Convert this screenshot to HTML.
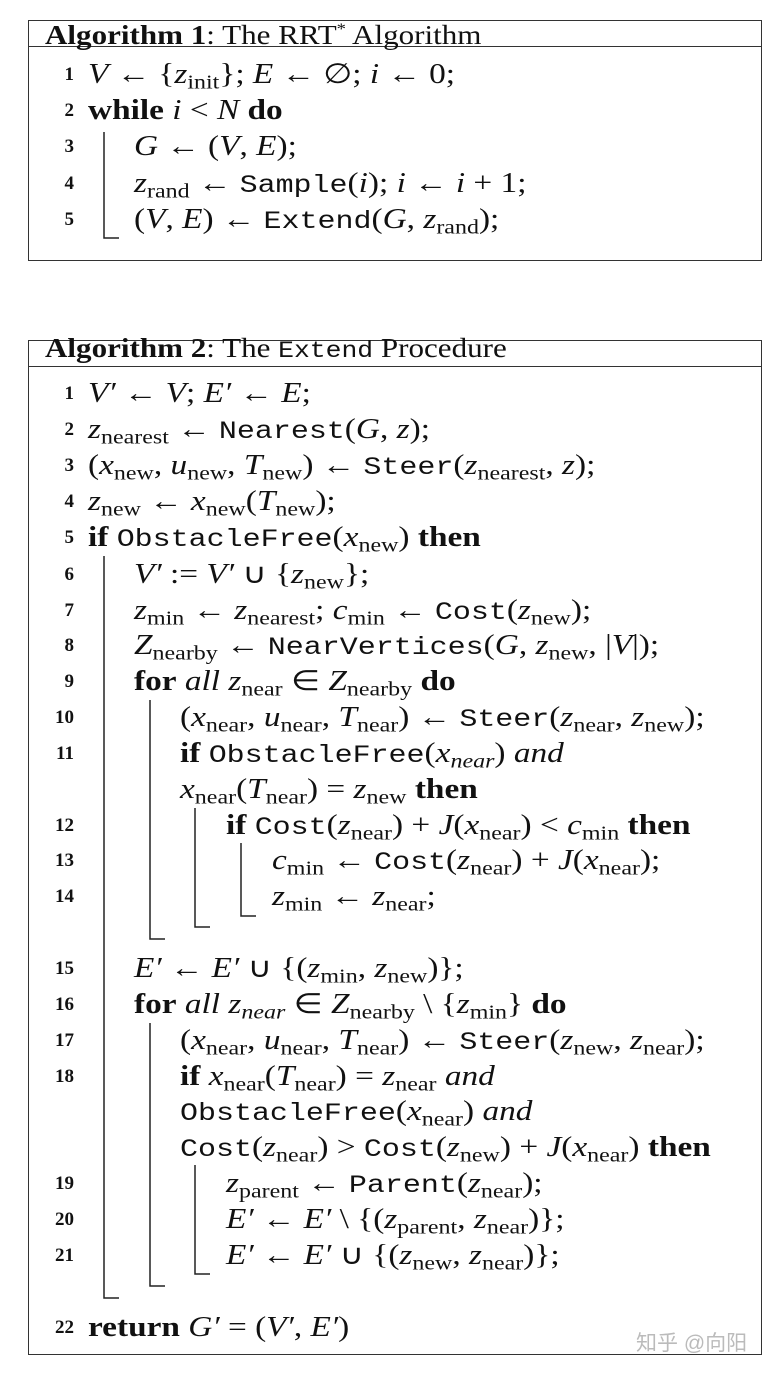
<!DOCTYPE html>
<html><head><meta charset="utf-8"><style>
body{margin:0;width:781px;height:1375px;background:#fff;position:relative;overflow:hidden;font-family:"Liberation Serif",serif;color:#111}
.l{position:absolute;white-space:nowrap;font-size:28px;line-height:32px;transform:scaleX(1.19);transform-origin:0 50%}
.n{position:absolute;width:40px;left:34px;text-align:right;font-weight:bold;font-size:19px;line-height:32px}
i{font-style:italic}
sub{font-size:0.72em;vertical-align:-0.28em;line-height:0;font-style:normal}
.m{font-family:"Liberation Mono",monospace;font-size:0.9em}
b{font-weight:bold}
.box{position:absolute;border:1.5px solid #333;left:28px;width:732px}
.hd{position:absolute;left:45px;font-size:27px;line-height:28px;white-space:nowrap;transform:scaleX(1.15);transform-origin:0 50%}
</style></head><body>
<div class="box" style="top:20px;height:239px"></div>
<div style="position:absolute;left:28px;top:46px;width:734px;border-top:1.5px solid #333"></div>
<div class="hd" style="top:15px"><b>Algorithm 1</b>: The RRT<sup style="font-size:0.6em">*</sup> Algorithm</div>

<div class="box" style="top:340px;height:1013px"></div>
<div style="position:absolute;left:28px;top:366px;width:734px;border-top:1.5px solid #333"></div>
<div class="hd" style="top:334px"><b>Algorithm 2</b>: The <span class="m" style="font-size:0.85em">Extend</span> Procedure</div>

<svg width="781" height="1375" style="position:absolute;left:0;top:0" fill="none" stroke="#222" stroke-width="1.5">
<path d="M104 132V238H119"/>
<path d="M104 556V1298H119"/>
<path d="M150 700V939H165"/>
<path d="M195 808V927H210"/>
<path d="M241 843V916H256"/>
<path d="M150 1023V1286H165"/>
<path d="M195 1165V1274H210"/>
</svg>

<div class="n" style="top:59px">1</div><div class="l" style="left:88px;top:59px"><i>V</i> ← {<i>z</i><sub>init</sub>}; <i>E</i> ← ∅; <i>i</i> ← 0;</div>
<div class="n" style="top:95px">2</div><div class="l" style="left:88px;top:95px"><b>while</b> <i>i</i> &lt; <i>N</i> <b>do</b></div>
<div class="n" style="top:131px">3</div><div class="l" style="left:134px;top:131px"><i>G</i> ← (<i>V</i>, <i>E</i>);</div>
<div class="n" style="top:168px">4</div><div class="l" style="left:134px;top:168px"><i>z</i><sub>rand</sub> ← <span class="m">Sample</span>(<i>i</i>); <i>i</i> ← <i>i</i> + 1;</div>
<div class="n" style="top:204px">5</div><div class="l" style="left:134px;top:204px">(<i>V</i>, <i>E</i>) ← <span class="m">Extend</span>(<i>G</i>, <i>z</i><sub>rand</sub>);</div>

<div class="n" style="top:378px">1</div><div class="l" style="left:88px;top:378px"><i>V′</i> ← <i>V</i>; <i>E′</i> ← <i>E</i>;</div>
<div class="n" style="top:414px">2</div><div class="l" style="left:88px;top:414px"><i>z</i><sub>nearest</sub> ← <span class="m">Nearest</span>(<i>G</i>, <i>z</i>);</div>
<div class="n" style="top:450px">3</div><div class="l" style="left:88px;top:450px">(<i>x</i><sub>new</sub>, <i>u</i><sub>new</sub>, <i>T</i><sub>new</sub>) ← <span class="m">Steer</span>(<i>z</i><sub>nearest</sub>, <i>z</i>);</div>
<div class="n" style="top:486px">4</div><div class="l" style="left:88px;top:486px"><i>z</i><sub>new</sub> ← <i>x</i><sub>new</sub>(<i>T</i><sub>new</sub>);</div>
<div class="n" style="top:522px">5</div><div class="l" style="left:88px;top:522px"><b>if</b> <span class="m">ObstacleFree</span>(<i>x</i><sub>new</sub>) <b>then</b></div>
<div class="n" style="top:559px">6</div><div class="l" style="left:134px;top:559px"><i>V′</i> := <i>V′</i> ∪ {<i>z</i><sub>new</sub>};</div>
<div class="n" style="top:595px">7</div><div class="l" style="left:134px;top:595px"><i>z</i><sub>min</sub> ← <i>z</i><sub>nearest</sub>; <i>c</i><sub>min</sub> ← <span class="m">Cost</span>(<i>z</i><sub>new</sub>);</div>
<div class="n" style="top:630px">8</div><div class="l" style="left:134px;top:630px"><i>Z</i><sub>nearby</sub> ← <span class="m">NearVertices</span>(<i>G</i>, <i>z</i><sub>new</sub>, |<i>V</i>|);</div>
<div class="n" style="top:666px">9</div><div class="l" style="left:134px;top:666px"><b>for</b> <i>all</i> <i>z</i><sub>near</sub> ∈ <i>Z</i><sub>nearby</sub> <b>do</b></div>
<div class="n" style="top:702px">10</div><div class="l" style="left:180px;top:702px">(<i>x</i><sub>near</sub>, <i>u</i><sub>near</sub>, <i>T</i><sub>near</sub>) ← <span class="m">Steer</span>(<i>z</i><sub>near</sub>, <i>z</i><sub>new</sub>);</div>
<div class="n" style="top:738px">11</div><div class="l" style="left:180px;top:738px"><b>if</b> <span class="m">ObstacleFree</span>(<i>x<sub style="font-style:italic">near</sub></i>) <i>and</i></div>
<div class="l" style="left:180px;top:774px"><i>x</i><sub>near</sub>(<i>T</i><sub>near</sub>) = <i>z</i><sub>new</sub> <b>then</b></div>
<div class="n" style="top:810px">12</div><div class="l" style="left:226px;top:810px"><b>if</b> <span class="m">Cost</span>(<i>z</i><sub>near</sub>) + <i>J</i>(<i>x</i><sub>near</sub>) &lt; <i>c</i><sub>min</sub> <b>then</b></div>
<div class="n" style="top:845px">13</div><div class="l" style="left:272px;top:845px"><i>c</i><sub>min</sub> ← <span class="m">Cost</span>(<i>z</i><sub>near</sub>) + <i>J</i>(<i>x</i><sub>near</sub>);</div>
<div class="n" style="top:881px">14</div><div class="l" style="left:272px;top:881px"><i>z</i><sub>min</sub> ← <i>z</i><sub>near</sub>;</div>
<div class="n" style="top:953px">15</div><div class="l" style="left:134px;top:953px"><i>E′</i> ← <i>E′</i> ∪ {(<i>z</i><sub>min</sub>, <i>z</i><sub>new</sub>)};</div>
<div class="n" style="top:989px">16</div><div class="l" style="left:134px;top:989px"><b>for</b> <i>all</i> <i>z<sub style="font-style:italic">near</sub></i> ∈ <i>Z</i><sub>nearby</sub> \ {<i>z</i><sub>min</sub>} <b>do</b></div>
<div class="n" style="top:1025px">17</div><div class="l" style="left:180px;top:1025px">(<i>x</i><sub>near</sub>, <i>u</i><sub>near</sub>, <i>T</i><sub>near</sub>) ← <span class="m">Steer</span>(<i>z</i><sub>new</sub>, <i>z</i><sub>near</sub>);</div>
<div class="n" style="top:1061px">18</div><div class="l" style="left:180px;top:1061px"><b>if</b> <i>x</i><sub>near</sub>(<i>T</i><sub>near</sub>) = <i>z</i><sub>near</sub> <i>and</i></div>
<div class="l" style="left:180px;top:1096px"><span class="m">ObstacleFree</span>(<i>x</i><sub>near</sub>) <i>and</i></div>
<div class="l" style="left:180px;top:1132px"><span class="m">Cost</span>(<i>z</i><sub>near</sub>) &gt; <span class="m">Cost</span>(<i>z</i><sub>new</sub>) + <i>J</i>(<i>x</i><sub>near</sub>) <b>then</b></div>
<div class="n" style="top:1168px">19</div><div class="l" style="left:226px;top:1168px"><i>z</i><sub>parent</sub> ← <span class="m">Parent</span>(<i>z</i><sub>near</sub>);</div>
<div class="n" style="top:1204px">20</div><div class="l" style="left:226px;top:1204px"><i>E′</i> ← <i>E′</i> \ {(<i>z</i><sub>parent</sub>, <i>z</i><sub>near</sub>)};</div>
<div class="n" style="top:1240px">21</div><div class="l" style="left:226px;top:1240px"><i>E′</i> ← <i>E′</i> ∪ {(<i>z</i><sub>new</sub>, <i>z</i><sub>near</sub>)};</div>
<div class="n" style="top:1312px">22</div><div class="l" style="left:88px;top:1312px"><b>return</b> <i>G′</i> = (<i>V′</i>, <i>E′</i>)</div>

<div style="position:absolute;left:636px;top:1327px;font-family:'Liberation Sans','Noto Sans CJK SC',sans-serif;font-size:21px;color:#bbb;white-space:nowrap">知乎 @向阳</div>
</body></html>
